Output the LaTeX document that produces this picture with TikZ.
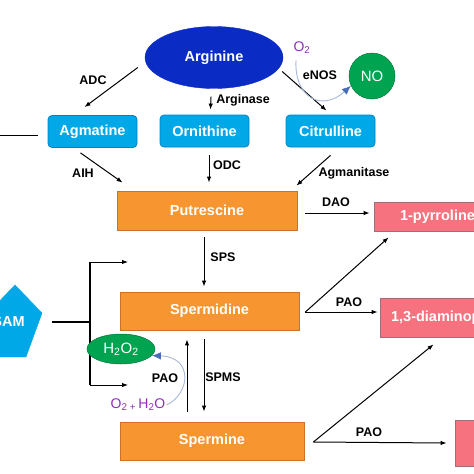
\documentclass[tikz,border=0pt]{standalone}
\usepackage{fontspec}
\setmainfont{Liberation Sans}
\usetikzlibrary{calc,arrows.meta,shapes.geometric}

\definecolor{argblue}{RGB}{10,44,196}
\definecolor{boxblue}{RGB}{0,168,232}
\definecolor{boxblueline}{RGB}{0,130,200}
\definecolor{polyorange}{RGB}{247,150,48}
\definecolor{polyline}{RGB}{205,112,40}
\definecolor{prodpink}{RGB}{246,114,126}
\definecolor{prodline}{RGB}{160,110,120}
\definecolor{gasgreen}{RGB}{0,163,80}
\definecolor{gasline}{RGB}{0,120,60}
\definecolor{oxpurple}{RGB}{142,46,184}
\definecolor{curvegrey}{RGB}{168,184,214}
\definecolor{tipblue}{RGB}{72,108,184}

\tikzset{
	arr/.style={line width=1pt, -{Latex[length=6pt,width=4.5pt]}},
	enzyme/.style={font=\fontsize{12.5}{14}\selectfont\bfseries, inner sep=1pt},
	boxtext/.style={text=white, font=\fontsize{14.5}{16}\selectfont\bfseries, inner sep=0pt},
	metab/.style={boxtext, draw=boxblueline, fill=boxblue, line width=0.8pt, rounded corners=4pt, minimum width=89pt, minimum height=32pt},
	amine/.style={boxtext, draw=polyline, fill=polyorange, line width=0.8pt},
	prod/.style={boxtext, draw=prodline, fill=prodpink, line width=0.8pt},
	gas/.style={text=white, font=\fontsize{15}{17}\selectfont, draw=gasline, fill=gasgreen, line width=0.5pt, inner sep=0pt},
	oxy/.style={text=oxpurple, font=\fontsize{14}{16}\selectfont, inner sep=1pt},
	bent/.style={line width=0.9pt, draw=curvegrey, -{Latex[length=9pt,width=7.5pt,color=tipblue]}}
}

\begin{document}
\begin{tikzpicture}[x=1pt,y=-1pt]
		%%%%% START %%%%%
		\useasboundingbox (0,0) rectangle (474,474);
		\clip (0,0) rectangle (474,474);
		
		% arginine and its products
		\node[ellipse, fill=argblue, draw=argblue, text=white, font=\fontsize{14.5}{16}\selectfont\bfseries, minimum width=138pt, minimum height=62pt, inner sep=0pt] (arginine) at (214,57.5) {Arginine};
		\node[metab] (agmatine) at (92.5,131.5) {Agmatine};
		\node[metab] (ornithine) at (204.5,131) {Ornithine};
		\node[metab] (citrulline) at (330.5,131) {Citrulline};
		\node[gas, circle, minimum size=46pt] (no) at (372,76) {NO};
		\node[oxy] (otwo) at (302,48) {O\textsubscript{2}};
		
		% polyamines
		\node[amine, minimum width=180pt, minimum height=39pt] (putrescine) at (207,210.5) {Putrescine};
		\node[amine, minimum width=179pt, minimum height=38pt] (spermidine) at (209.5,311) {Spermidine};
		\node[amine, minimum width=184pt, minimum height=38pt] (spermine) at (212,441) {Spermine};
		
		% oxidation products
		\node[prod, minimum width=127pt, minimum height=29pt] (pyrroline) at (437.5,216.5) {1-pyrroline};
		\node[prod, minimum width=160pt, minimum height=39pt] (diamino) at (460,317.5) {1,3-diaminopropane};
		\node[prod, minimum width=105pt, minimum height=46pt] (thirdprod) at (507.5,443) {};
		
		% SAM
		\draw[fill=boxblue, draw=boxblue] (15,285) -- (42,313) -- (26,357) -- (-2,357) -- (-12,313) -- cycle;
		\node[boxtext] (sam) at (8.5,322) {SAM};
		
		\coordinate (leftend) at (0,135);
		\coordinate (samout) at (52,322);
		\coordinate (branch) at (90,322);
		\coordinate (branchtop) at (90,262);
		\coordinate (branchbot) at (90,385);
		\coordinate (toptip) at (128,262);
		\coordinate (bottip) at (128,385);
		\coordinate (sdout) at ($(spermidine.east)+(6,1)$);
		\coordinate (spout) at ($(spermine.east)+(9,1)$);
		
		\draw[line width=1pt] (leftend) -- ($(agmatine.west)+(-10,3.5)$);
		\draw[line width=2pt] (samout) -- (branch);
		\draw[line width=1.3pt] (branchtop) -- (branchbot);
		\draw[arr] (branchtop) -- (toptip);
		\draw[arr] (branchbot) -- (bottip);
		
		\node[gas, ellipse, minimum width=68pt, minimum height=30pt] (htwootwo) at (121,349) {H\textsubscript{2}O\textsubscript{2}};
		\node[oxy] (otwoh) at (138,405) {O\textsubscript{2}\,\textsubscript{+}\,H\textsubscript{2}O};
		
		% arrows from arginine
		\draw[arr] ($(arginine.west)+(-7,10)$) -- ($(agmatine.north)+(-8,-8)$);
		\draw[arr] ($(arginine.south)+(-3,8)$) -- ($(ornithine.north)+(6,-5)$);
		\draw[arr] ($(arginine.east)+(-1,14)$) -- ($(citrulline.north)+(-4,-4)$);
		\draw[bent] ($(otwo.south)+(-6,5)$) .. controls (294,98) and (322,112) .. (no.205);
		
		% to putrescine
		\draw[arr] ($(agmatine.south)+(-12,5)$) -- ($(putrescine.north west)+(6,-8)$);
		\draw[arr] ($(ornithine.south)+(4.5,8)$) -- ($(putrescine.north)+(2,-8)$);
		\draw[arr] ($(citrulline.south)+(0,8)$) -- ($(putrescine.north east)+(-1,-5)$);
		
		% down the chain
		\draw[arr] ($(putrescine.east)+(8,2.5)$) -- ($(pyrroline.west)+(-4,-3.5)$);
		\draw[arr] ($(putrescine.south)+(-3,7)$) -- ($(spermidine.north)+(-5.5,-5)$);
		\draw[arr] (sdout) -- ($(pyrroline.south west)+(15,6)$);
		\draw[arr] (sdout) -- ($(diamino.west)+(-2,-5.5)$);
		\draw[arr] ($(spermidine.south)+(-5.5,9)$) -- ($(spermine.north)+(-8,-10)$);
		\draw[arr] ($(spermine.north)+(-25,-10)$) -- ($(spermidine.south)+(-22.5,9)$);
		\draw[arr] (spout) -- ($(diamino.south west)+(54,7)$);
		\draw[arr] (spout) -- ($(thirdprod.west)+(-8,0)$);
		\draw[bent] (otwoh.east) .. controls (190,394) and (194,357) .. (htwootwo.-12);
		
		% enzymes
		\node[enzyme] at (93,80) {ADC};
		\node[enzyme] at (243,100) {Arginase};
		\node[enzyme] at (320,75) {eNOS};
		\node[enzyme] at (83,173) {AIH};
		\node[enzyme] at (227,165) {ODC};
		\node[enzyme] at (354,173) {Agmanitase};
		\node[enzyme] at (336,202) {DAO};
		\node[enzyme] at (223,257) {SPS};
		\node[enzyme] at (349,302) {PAO};
		\node[enzyme] at (223,377) {SPMS};
		\node[enzyme] at (165,378) {PAO};
		\node[enzyme] at (369,432) {PAO};
		
		%%%%% END %%%%%
	\end{tikzpicture}
\end{document}
